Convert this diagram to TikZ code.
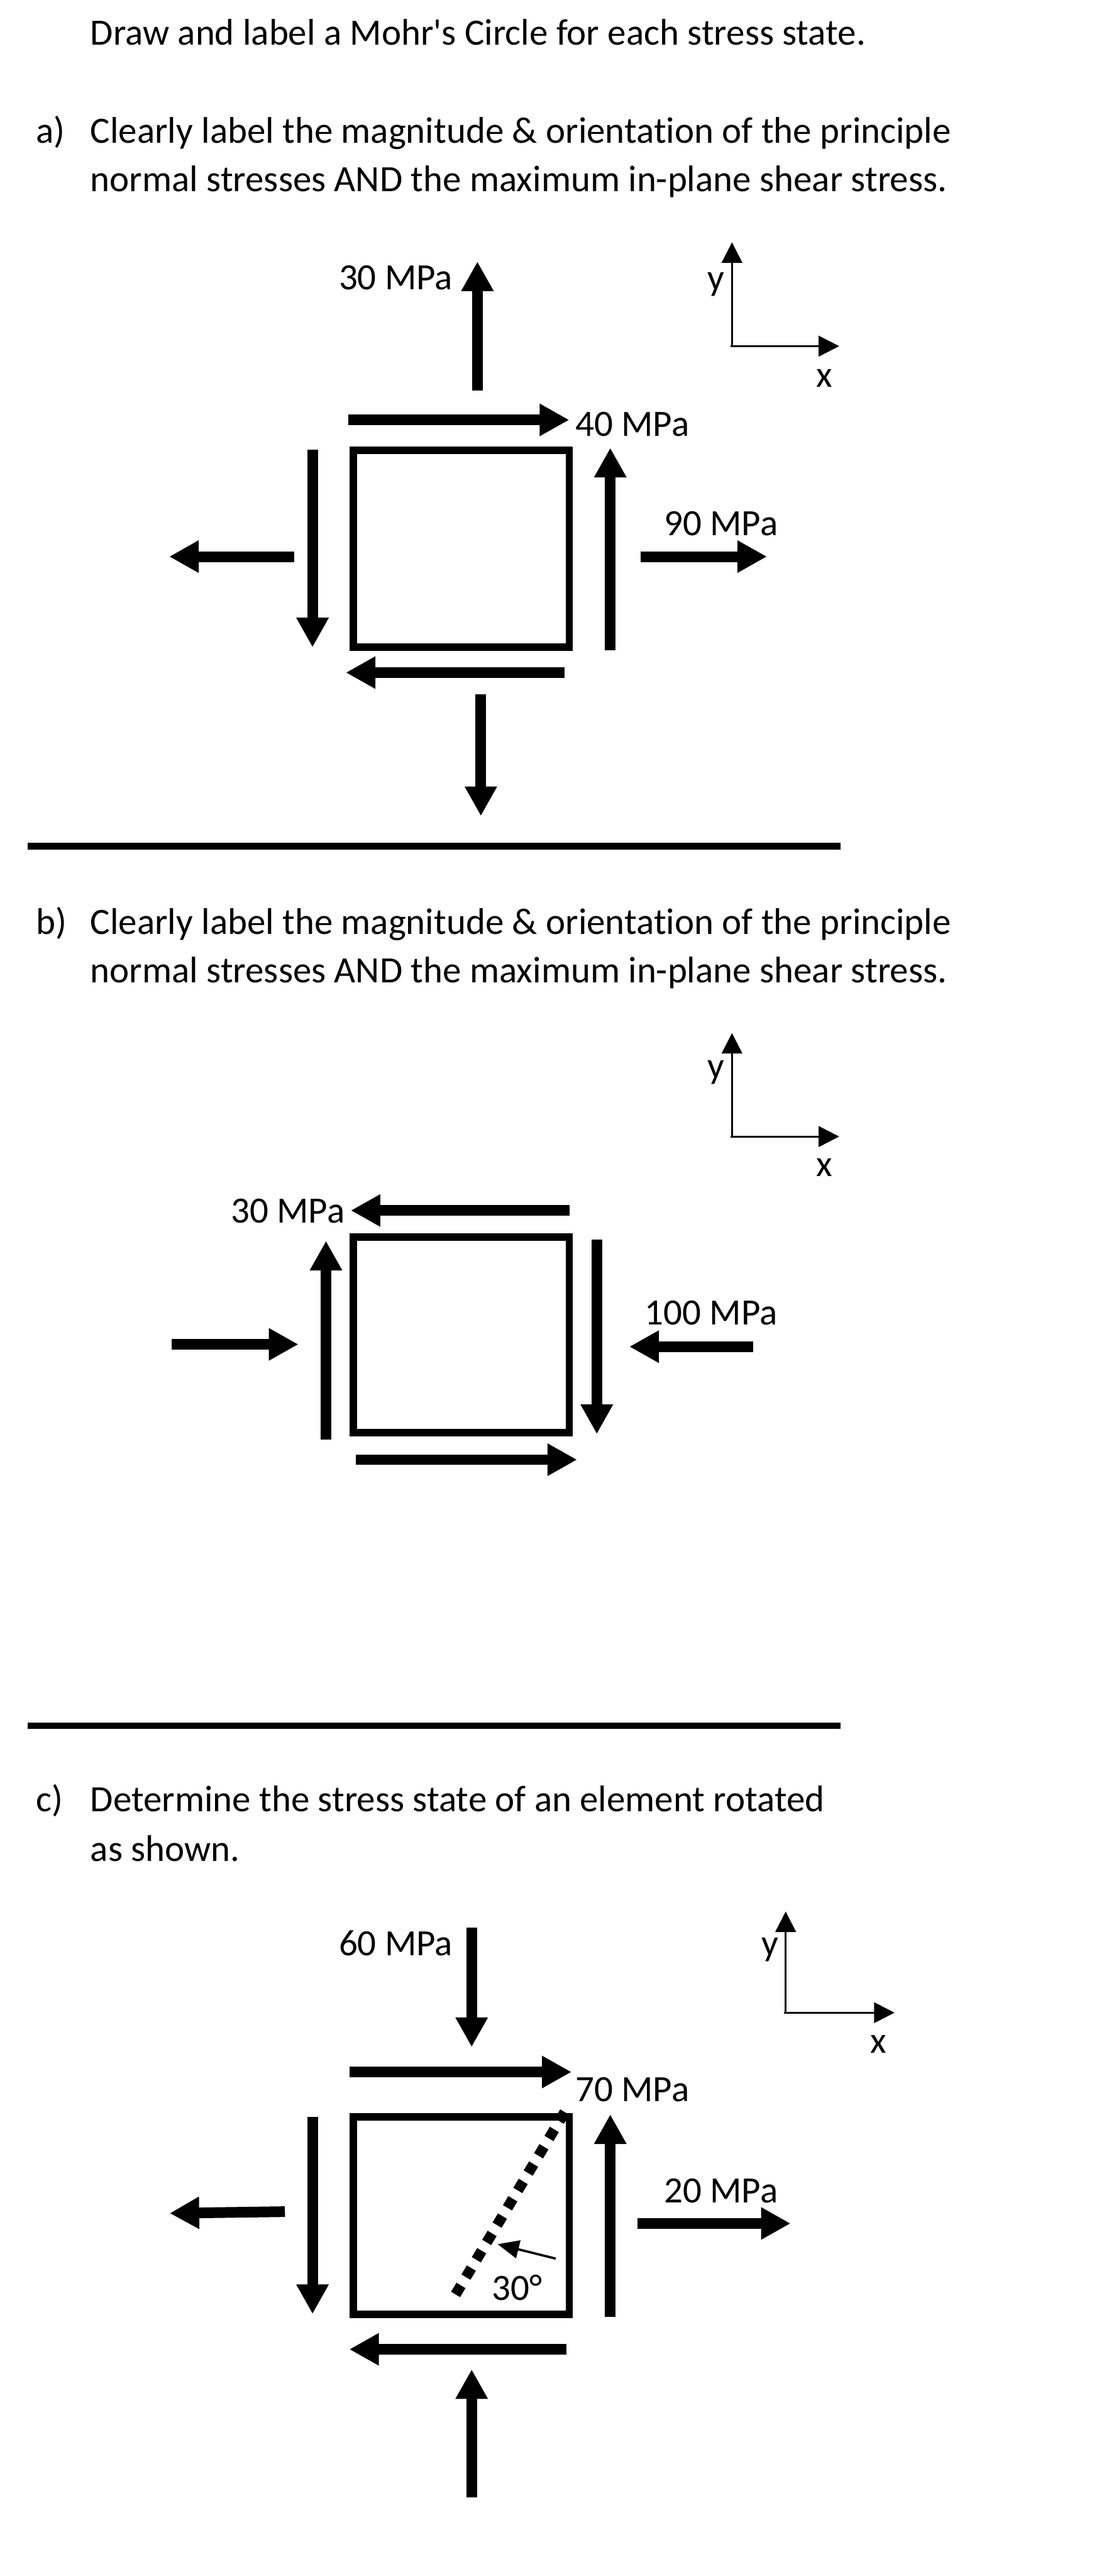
\documentclass[tikz,border=0pt]{standalone}
\usepackage{fontspec}
\setmainfont[Ligatures={TeXOff,NoCommon}]{Carlito}
\usetikzlibrary{arrows.meta}
\tikzset{
  txt/.style={anchor=base west,inner sep=0pt,font=\fontsize{12.85}{15}\selectfont},
  lbl/.style={anchor=base,inner sep=0pt,font=\fontsize{12.85}{15}\selectfont},
  force/.style={line width=0.13cm,-{Triangle[length=0.36cm,width=0.37cm]}},
  axisline/.style={line width=0.022cm,-{Triangle[length=0.25cm,width=0.25cm]}},
  elem/.style={line width=0.09cm},
  rule/.style={line width=0.08cm},
}
\begin{document}
\begin{tikzpicture}[x=0.02cm,y=-0.02cm]
\useasboundingbox (0,0) rectangle (675,1568);
\node[txt] (title) at (54.7,27.4) {Draw and label a Mohr's Circle for each stress state.};

\node[txt] (parta) at (21.5,87) {a)};
\node[txt] (linea1) at (54.7,87) {Clearly label the magnitude \& orientation of the principle};
\node[txt] (linea2) at (54.7,116.4) {normal stresses AND the maximum in-plane shear stress.};
\draw[force] (290.7,237.8)--(290.7,159.2);
\draw[force] (212,255.6)--(346.6,255.6);
\draw[elem] (215,274) rectangle (346.6,394);
\draw[force] (190.3,273.6)--(190.3,394);
\draw[force] (371.6,395.7)--(371.6,272.6);
\draw[force] (390,338.8)--(467,338.8);
\draw[force] (179,338.8)--(103,338.8);
\draw[force] (343.6,409.4)--(210.6,409.4);
\draw[force] (292.8,422.8)--(292.8,496.7);
\draw[axisline] (445.7,210.7)--(445.7,147.5);
\draw[axisline] (444.7,210.7)--(511,210.7);
\node[lbl] (a30) at (241,176.3) {30 MPa};
\node[lbl] (a40) at (385,265.3) {40 MPa};
\node[lbl] (a90) at (439,326.1) {90 MPa};
\node[lbl] (ay) at (436,176.6) {y};
\node[lbl] (ax) at (502,235.8) {x};
\draw[rule] (17,515.1)--(512,515.1);

\node[txt] (partb) at (21.5,568.5) {b)};
\node[txt] (lineb1) at (54.7,568.5) {Clearly label the magnitude \& orientation of the principle};
\node[txt] (lineb2) at (54.7,598.3) {normal stresses AND the maximum in-plane shear stress.};
\draw[force] (347,736.8)--(213.6,736.8);
\draw[elem] (215,753) rectangle (346.6,872);
\draw[force] (198.5,876.4)--(198.5,755.3);
\draw[force] (363.4,754.5)--(363.4,872.9);
\draw[force] (216.6,888.5)--(351.4,888.5);
\draw[force] (104.6,818.3)--(181.7,818.3);
\draw[force] (458.6,819.7)--(383.2,819.7);
\draw[axisline] (445.7,691.8)--(445.7,628.8);
\draw[axisline] (444.7,691.8)--(511,691.8);
\node[lbl] (b30) at (175.3,744.3) {30 MPa};
\node[lbl] (b100) at (433,806.3) {100 MPa};
\node[lbl] (by) at (436,656.4) {y};
\node[lbl] (bx) at (502,716) {x};
\draw[rule] (17,1050.4)--(512,1050.4);

\node[txt] (partc) at (21.5,1102.7) {c)};
\node[txt] (linec1) at (54.7,1102.7) {Determine the stress state of an element rotated};
\node[txt] (linec2) at (54.7,1133) {as shown.};
\draw[force] (287.2,1173.4)--(287.2,1246);
\draw[force] (213,1261.2)--(348,1261.2);
\draw[elem] (215,1288.5) rectangle (346.6,1408.7);
\draw[line width=0.128cm,dash pattern=on 0.128cm off 0.118cm] (277.4,1396.6)--(344.1,1285.2);
\draw[line width=0.028cm,-{Triangle[length=0.26cm,width=0.22cm]}] (338.4,1374.8)--(303,1366);
\draw[force] (190.3,1288.6)--(190.3,1408.5);
\draw[force] (371.6,1410.4)--(371.6,1287);
\draw[force] (388,1353.4)--(481.4,1353.4);
\draw[force] (173.5,1346.2)--(103.3,1347.2);
\draw[force] (345,1430)--(212.7,1430);
\draw[force] (287.2,1520.3)--(287.2,1442.2);
\draw[axisline] (478.4,1225.1)--(478.4,1163.5);
\draw[axisline] (477.4,1225.1)--(544.7,1225.1);
\node[lbl] (c60) at (241,1190.5) {60 MPa};
\node[lbl] (c70) at (385,1279.3) {70 MPa};
\node[lbl] (c20) at (439,1340.6) {20 MPa};
\node[lbl] (c30) at (315,1400) {30°};
\node[lbl] (cy) at (469,1190.5) {y};
\node[lbl] (cx) at (535,1249.7) {x};
\end{tikzpicture}
\end{document}
